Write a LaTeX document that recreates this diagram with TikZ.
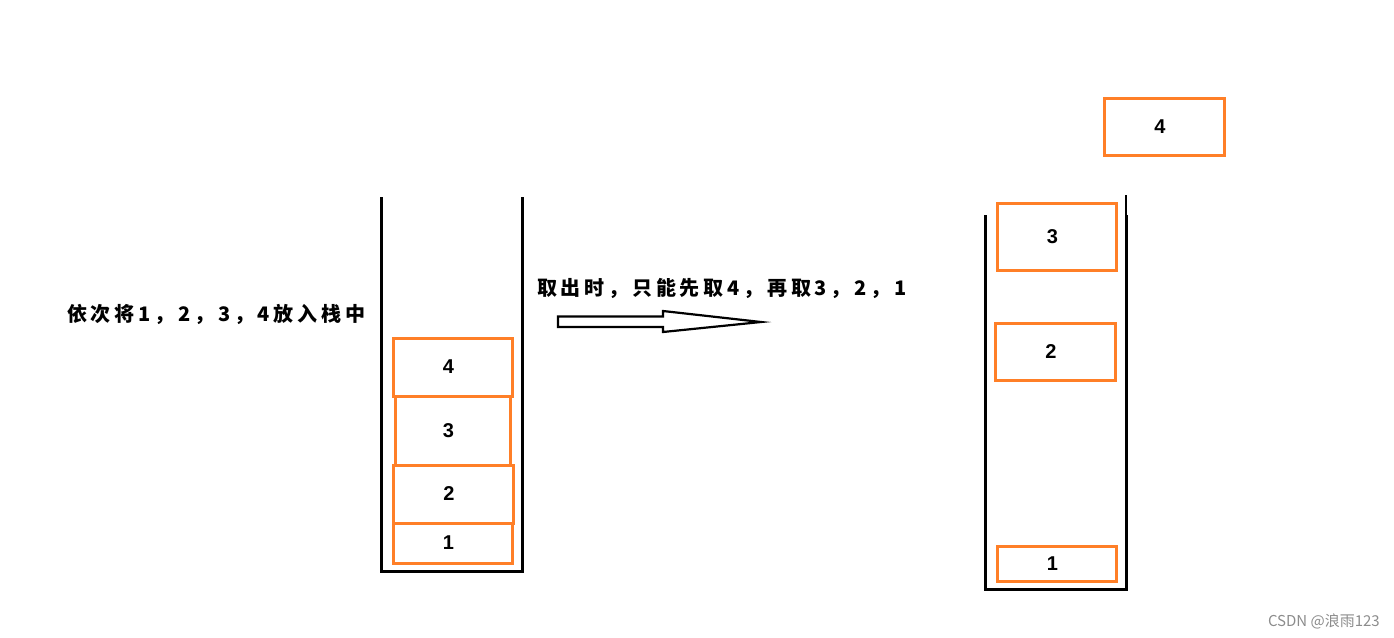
\documentclass[tikz,border=0pt]{standalone}
\usepackage{fontspec}
\setmainfont{Liberation Sans}
\newfontfamily\cjk[LetterSpace=19]{Noto Sans CJK SC}
\newfontfamily\cjkplain{Noto Sans CJK SC}
\definecolor{paintorange}{HTML}{FF7F27}
\newcommand{\boxnum}[1]{\raisebox{-3pt}{#1}\kern8pt}
\begin{document}
\begin{tikzpicture}[x=1pt,y=-1pt,
  box/.style={draw=paintorange, line width=3pt, inner sep=0pt, font=\fontsize{20}{20}\selectfont\bfseries},
  wall/.style={draw=black, line width=3pt},
  label/.style={anchor=west, inner sep=0pt, font=\fontsize{20}{20}\selectfont\cjk\bfseries},
]
\useasboundingbox (0,0) rectangle (1394,637);
% left stack
\draw[wall] (381,197) -- (381,571) -- (522,571) -- (522,197);
\node[box, minimum width=119, minimum height=58] (l4) at (452.5,367) {\boxnum{4}};
\node[box, minimum width=115, minimum height=69] (l3) at (452.5,430.5) {\boxnum{3}};
\node[box, minimum width=120, minimum height=58] (l2) at (453,494) {\boxnum{2}};
\node[box, minimum width=119, minimum height=40] (l1) at (452.5,543) {\boxnum{1}};
% right stack
\draw[wall] (985.5,215) -- (985.5,589) -- (1126.5,589) -- (1126.5,215);
\draw[black, line width=1.4pt] (1126,195) -- (1126,215);
\node[box, minimum width=119, minimum height=67] (r3) at (1056.5,236.5) {\boxnum{3}};
\node[box, minimum width=120, minimum height=57] (r2) at (1055,351.5) {\boxnum{2}};
\node[box, minimum width=119, minimum height=35] (r1) at (1056.5,563.5) {\boxnum{1}};
\node[box, minimum width=120, minimum height=57] (r4) at (1164,126.5) {\boxnum{4}};
% texts
\node[label] (t1) at (67,314) {依次将1，2，3，4放入栈中};
\node[label] (t2) at (537,288) {取出时，只能先取4，再取3，2，1};
% hollow arrow
\draw[black, line width=2.2pt, line join=miter] (558,316.5) -- (663,316.5) -- (663,311) -- (761,322) -- (663,332) -- (663,327) -- (558,327) -- cycle;
% watermark
\node[anchor=east, inner sep=0pt, text=black!45, font=\fontsize{15}{15}\selectfont\cjkplain] (wm) at (1380,621) {CSDN @浪雨123};
\end{tikzpicture}
\end{document}
